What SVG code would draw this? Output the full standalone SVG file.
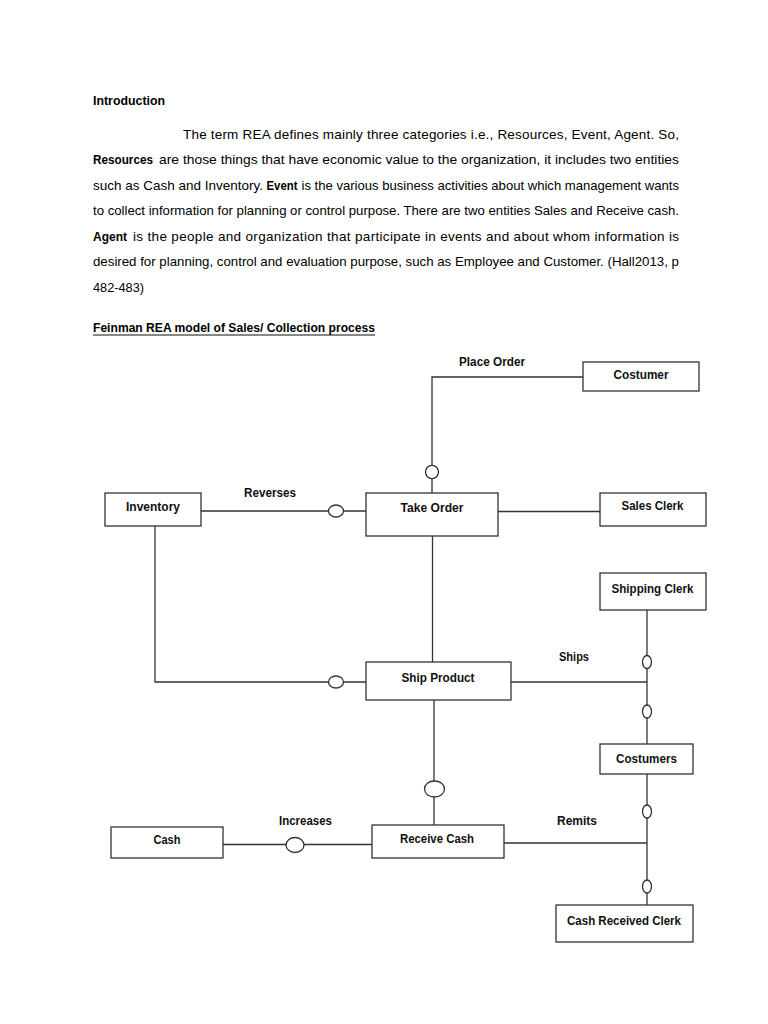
<svg xmlns="http://www.w3.org/2000/svg" width="768" height="1024" viewBox="0 0 768 1024">
<style>
.p{font-family:"Liberation Sans","Noto Sans",sans-serif;font-size:13.5px;fill:#000}
.b{font-weight:bold}
.lbl{font-family:"Liberation Sans","Noto Sans",sans-serif;font-size:13.5px;font-weight:bold;fill:#111;text-anchor:middle}
.box{fill:#fff;stroke:#333;stroke-width:1.3}
.ln{fill:none;stroke:#333;stroke-width:1.3}
.o{fill:#fff;stroke:#333;stroke-width:1.3}
</style>
<rect width="768" height="1024" fill="#fff"/>
<g id="intro">
<text class="p b" x="93" y="105" textLength="72" lengthAdjust="spacingAndGlyphs">Introduction</text>
<text class="p" x="183" y="138.5" textLength="496" lengthAdjust="spacing">The term REA defines mainly three categories i.e., Resources, Event, Agent. So,</text>
<text class="p b" x="93" y="164" textLength="60" lengthAdjust="spacingAndGlyphs">Resources</text>
<text class="p" x="159" y="164" textLength="520" lengthAdjust="spacingAndGlyphs">are those things that have economic value to the organization, it includes two entities</text>
<text class="p" x="93" y="189.5" textLength="170" lengthAdjust="spacingAndGlyphs">such as Cash and Inventory.</text>
<text class="p b" x="266.5" y="189.5" textLength="31" lengthAdjust="spacingAndGlyphs">Event</text>
<text class="p" x="301.5" y="189.5" textLength="377.5" lengthAdjust="spacingAndGlyphs">is the various business activities about which management wants</text>
<text class="p" x="93" y="215" textLength="586" lengthAdjust="spacingAndGlyphs">to collect information for planning or control purpose. There are two entities Sales and Receive cash.</text>
<text class="p b" x="93" y="240.5" textLength="34" lengthAdjust="spacingAndGlyphs">Agent</text>
<text class="p" x="133" y="240.5" textLength="546" lengthAdjust="spacing">is the people and organization that participate in events and about whom information is</text>
<text class="p" x="93" y="266" textLength="586" lengthAdjust="spacingAndGlyphs">desired for planning, control and evaluation purpose, such as Employee and Customer. (Hall2013, p</text>
<text class="p" x="93" y="291.5" textLength="51" lengthAdjust="spacingAndGlyphs">482-483)</text>
<text class="p b" x="93" y="332" textLength="282" lengthAdjust="spacingAndGlyphs">Feinman REA model of Sales/ Collection process</text>
<line x1="93" y1="335" x2="375" y2="335" stroke="#111" stroke-width="1"/>
</g>
<g id="connectors">
<path class="ln" d="M583,377 H432 V493"/>
<ellipse class="o" cx="432" cy="472" rx="6.5" ry="6.7"/>
<path class="ln" d="M201,511 H366"/>
<ellipse class="o" cx="336" cy="511" rx="7.5" ry="6"/>
<path class="ln" d="M498,511.5 H600"/>
<path class="ln" d="M432.5,536 V662"/>
<path class="ln" d="M155,526 V682 H366"/>
<ellipse class="o" cx="336" cy="682" rx="7.5" ry="6"/>
<path class="ln" d="M511,682 H647"/>
<path class="ln" d="M647,610 V744"/>
<ellipse class="o" cx="647" cy="662" rx="4.5" ry="6.5"/>
<ellipse class="o" cx="647" cy="711.5" rx="4.5" ry="6.5"/>
<path class="ln" d="M434,700 V825"/>
<ellipse class="o" cx="434.5" cy="789" rx="10" ry="8"/>
<path class="ln" d="M223,844.5 H372"/>
<ellipse class="o" cx="295" cy="845" rx="9" ry="7.5"/>
<path class="ln" d="M504,843 H647"/>
<path class="ln" d="M647,774 V905"/>
<ellipse class="o" cx="647" cy="811.5" rx="4.5" ry="6.5"/>
<ellipse class="o" cx="647" cy="886.5" rx="4.5" ry="6.5"/>
<text class="lbl" x="492" y="366" textLength="66" lengthAdjust="spacingAndGlyphs">Place Order</text>
<text class="lbl" x="270" y="497" textLength="52" lengthAdjust="spacingAndGlyphs">Reverses</text>
<text class="lbl" x="574" y="661" textLength="30" lengthAdjust="spacingAndGlyphs">Ships</text>
<text class="lbl" x="305.5" y="825" textLength="53" lengthAdjust="spacingAndGlyphs">Increases</text>
<text class="lbl" x="577" y="825" textLength="40" lengthAdjust="spacingAndGlyphs">Remits</text>
</g>
<g id="costumer">
<rect class="box" x="583" y="362" width="116" height="29"/>
<text class="lbl" x="641" y="379" textLength="55" lengthAdjust="spacingAndGlyphs">Costumer</text>
</g>
<g id="inventory">
<rect class="box" x="105" y="493" width="96" height="33"/>
<text class="lbl" x="153" y="511" textLength="54" lengthAdjust="spacingAndGlyphs">Inventory</text>
</g>
<g id="take-order">
<rect class="box" x="366" y="493" width="132" height="43"/>
<text class="lbl" x="432" y="512" textLength="63" lengthAdjust="spacingAndGlyphs">Take Order</text>
</g>
<g id="sales-clerk">
<rect class="box" x="600" y="493" width="106" height="33"/>
<text class="lbl" x="652.5" y="510" textLength="62" lengthAdjust="spacingAndGlyphs">Sales Clerk</text>
</g>
<g id="shipping-clerk">
<rect class="box" x="600" y="573" width="106" height="37"/>
<text class="lbl" x="652.5" y="592.5" textLength="82" lengthAdjust="spacingAndGlyphs">Shipping Clerk</text>
</g>
<g id="ship-product">
<rect class="box" x="366" y="662" width="145" height="38"/>
<text class="lbl" x="438" y="682" textLength="73" lengthAdjust="spacingAndGlyphs">Ship Product</text>
</g>
<g id="costumers">
<rect class="box" x="600" y="744" width="93" height="30"/>
<text class="lbl" x="646.5" y="762.5" textLength="61" lengthAdjust="spacingAndGlyphs">Costumers</text>
</g>
<g id="cash">
<rect class="box" x="111" y="827" width="112" height="31"/>
<text class="lbl" x="167" y="844" textLength="27" lengthAdjust="spacingAndGlyphs">Cash</text>
</g>
<g id="receive-cash">
<rect class="box" x="372" y="825" width="132" height="33"/>
<text class="lbl" x="437" y="843" textLength="74" lengthAdjust="spacingAndGlyphs">Receive Cash</text>
</g>
<g id="cash-received-clerk">
<rect class="box" x="556" y="905" width="137" height="37"/>
<text class="lbl" x="624" y="925" textLength="114" lengthAdjust="spacingAndGlyphs">Cash Received Clerk</text>
</g>
</svg>
